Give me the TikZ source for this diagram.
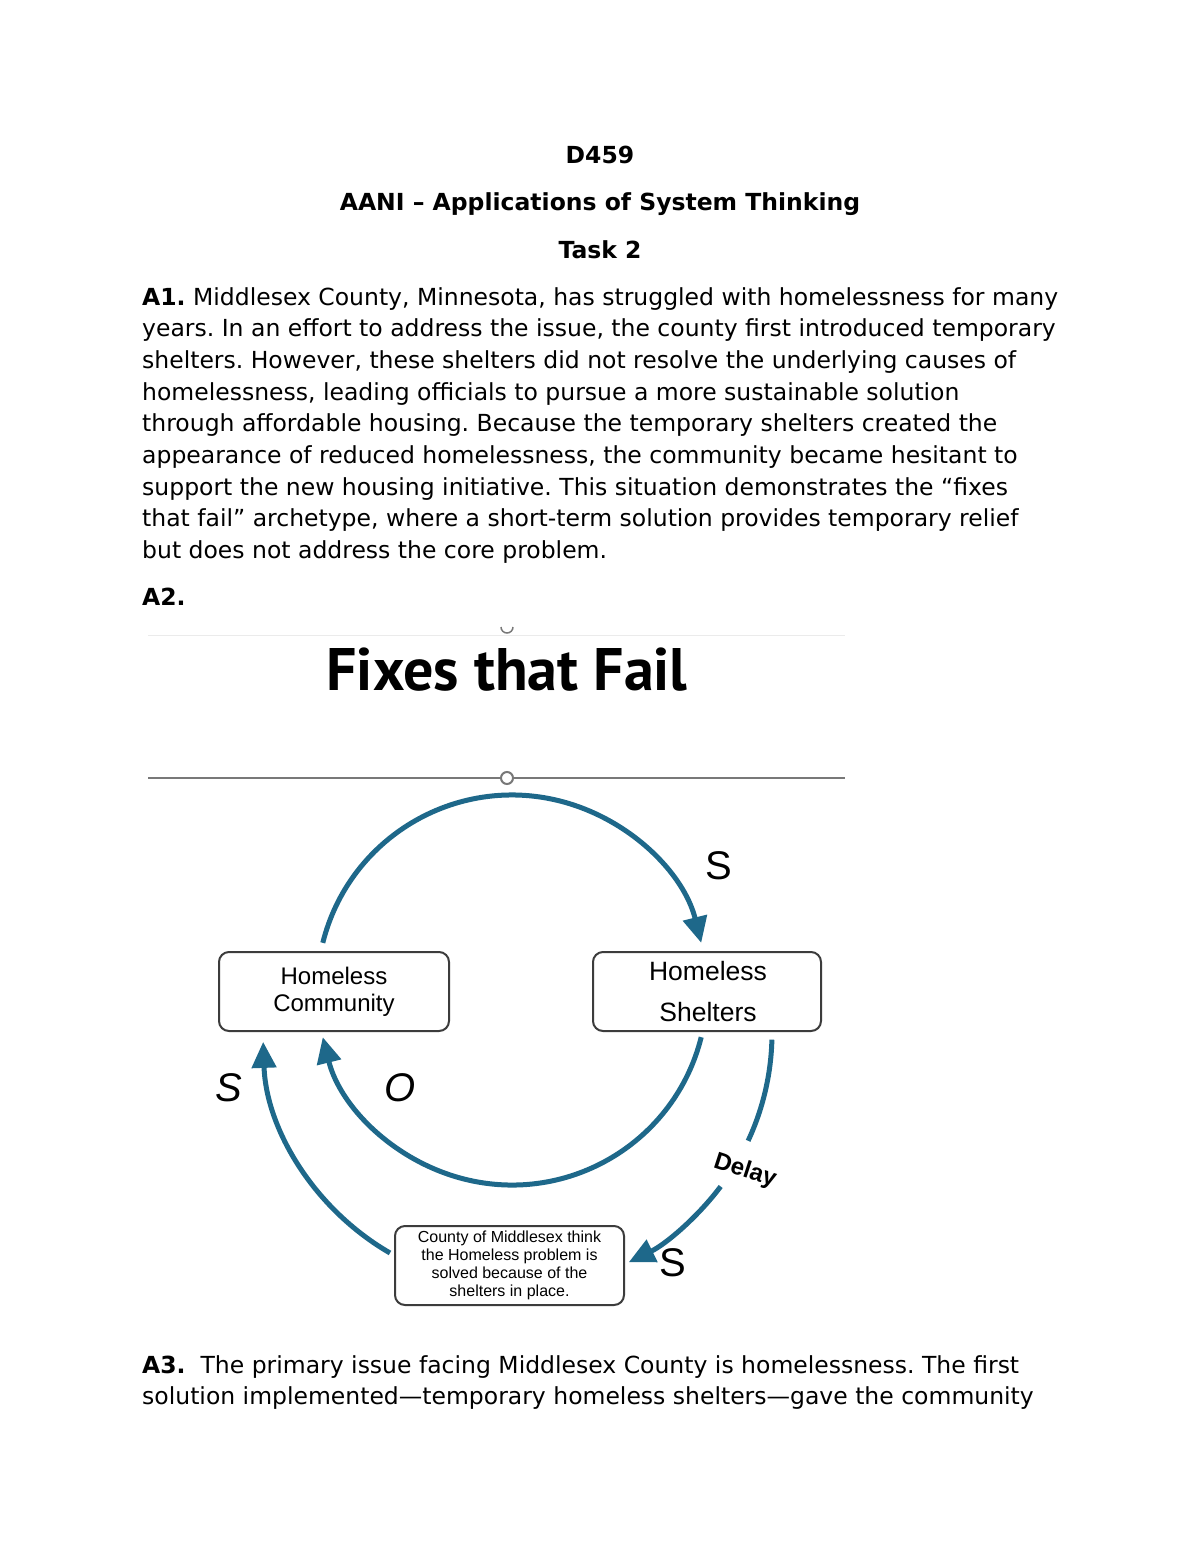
\documentclass[tikz,border=0pt]{standalone}
\usepackage{fontspec}
\setmainfont{DejaVu Sans}
\newfontfamily\diagfont{Liberation Sans}
\newfontfamily\titlefont{PT Sans}
\usetikzlibrary{arrows.meta,calc}
\definecolor{teal1}{RGB}{30,104,138}
\definecolor{boxgray}{RGB}{60,60,60}
\definecolor{rulegray}{RGB}{120,120,120}
\frenchspacing
\begin{document}
\begin{tikzpicture}[x=1pt,y=-1pt,
  body/.style={anchor=base west,inner sep=0pt,font=\fontsize{23.5}{31.7}\selectfont},
  head/.style={anchor=base,inner sep=0pt,font=\fontsize{23.5}{31.7}\selectfont\bfseries},
  box/.style={draw=boxgray,line width=2pt,rounded corners=10pt,fill=white,align=center,inner sep=0pt},
  loopline/.style={draw=teal1,line width=5pt},
  looparr/.style={loopline,-{Triangle[length=26pt,width=24pt]}},
  pol/.style={font=\diagfont\fontsize{40}{40}\selectfont,inner sep=0pt}
]
\useasboundingbox (0,0) rectangle (1200,1553);
\fill[white] (0,0) rectangle (1200,1553);

% headings
\node[head] (h1) at (600,163) {D459};
\node[head] (h2) at (600,210) {AANI – Applications of System Thinking};
\node[head] (h3) at (600,258) {Task 2};

% A1 paragraph
\node[body] (l1) at (142,305) {\textbf{A1.} Middlesex County, Minnesota, has struggled with homelessness for many};
\node[body] (l2) at (142,336.7) {years. In an effort to address the issue, the county first introduced temporary};
\node[body] (l3) at (142,368.4) {shelters. However, these shelters did not resolve the underlying causes of};
\node[body] (l4) at (142,400.1) {homelessness, leading officials to pursue a more sustainable solution};
\node[body] (l5) at (142,431.8) {through affordable housing. Because the temporary shelters created the};
\node[body] (l6) at (142,463.5) {appearance of reduced homelessness, the community became hesitant to};
\node[body] (l7) at (142,495.2) {support the new housing initiative. This situation demonstrates the “fixes};
\node[body] (l8) at (142,526.9) {that fail” archetype, where a short-term solution provides temporary relief};
\node[body] (l9) at (142,558.6) {but does not address the core problem.};
\node[body] (a2) at (142,605) {\textbf{A2.}};

% diagram frame elements
\draw[black!8,line width=1pt] (148,635) -- (845,635);
\draw[rulegray,line width=1.5pt] (501,627) arc[start angle=180,end angle=0,radius=6];
\node[anchor=base,inner sep=0pt,font=\titlefont\bfseries\fontsize{60}{60}\selectfont] (title) at (507,690) {Fixes that Fail};
\node[circle,draw=rulegray,fill=white,line width=2pt,minimum size=12pt,inner sep=0pt] (handle) at (507,778) {};
\coordinate (ruleL) at (148,778);
\coordinate (ruleR) at (845,778);
\draw[rulegray,line width=1.5pt] (ruleL) -- (handle.west);
\draw[rulegray,line width=1.5pt] (handle.east) -- (ruleR);

% loops
\coordinate (C) at (512,990);
\coordinate (D) at (517,1033);
\draw[looparr] ($(C)+(-166:195)$) arc[start angle=-166,end angle=-14,radius=195];
\draw[looparr] ($(C)+(14:195)$) arc[start angle=14,end angle=166,radius=195];
\draw[loopline] ($(D)+(1.5:255)$) arc[start angle=1.5,end angle=25,radius=255];
\draw[looparr] ($(D)+(37:255)$) arc[start angle=37,end angle=64,radius=255];
\draw[looparr] ($(D)+(120:254)$) arc[start angle=120,end angle=178,radius=254];

% boxes
\node[box,minimum width=230pt,minimum height=79pt,font=\diagfont\fontsize{24}{27}\selectfont] (hc) at (334,991.5) {Homeless\\Community};
\node[box,minimum width=228pt,minimum height=79pt,font=\diagfont\fontsize{26.5}{41}\selectfont] (hs) at (707,991.5) {\hspace{2pt}Homeless\\\hspace{2pt}Shelters};
\node[box,minimum width=229pt,minimum height=79pt,font=\diagfont\fontsize{16}{18}\selectfont] (cb) at (509.5,1265.5) {County of Middlesex think\\the Homeless problem is\\solved because of the\\shelters in place.};

% labels
\node[pol] (s1) at (719,866) {S};
\node[pol,font=\diagfont\itshape\fontsize{40}{40}\selectfont] (s2) at (229,1088) {S};
\node[pol,font=\diagfont\itshape\fontsize{40}{40}\selectfont] (o1) at (400,1088) {O};
\node[pol] (s3) at (673,1263) {S};
\node[inner sep=0pt,font=\diagfont\bfseries\fontsize{24}{24}\selectfont,rotate=-18] (delay) at (745,1171) {Delay};

% A3 paragraph
\node[body] (m1) at (142,1373) {\textbf{A3.}\ \ The primary issue facing Middlesex County is homelessness. The first};
\node[body] (m2) at (142,1404.7) {solution implemented—temporary homeless shelters—gave the community};
\end{tikzpicture}
\end{document}
